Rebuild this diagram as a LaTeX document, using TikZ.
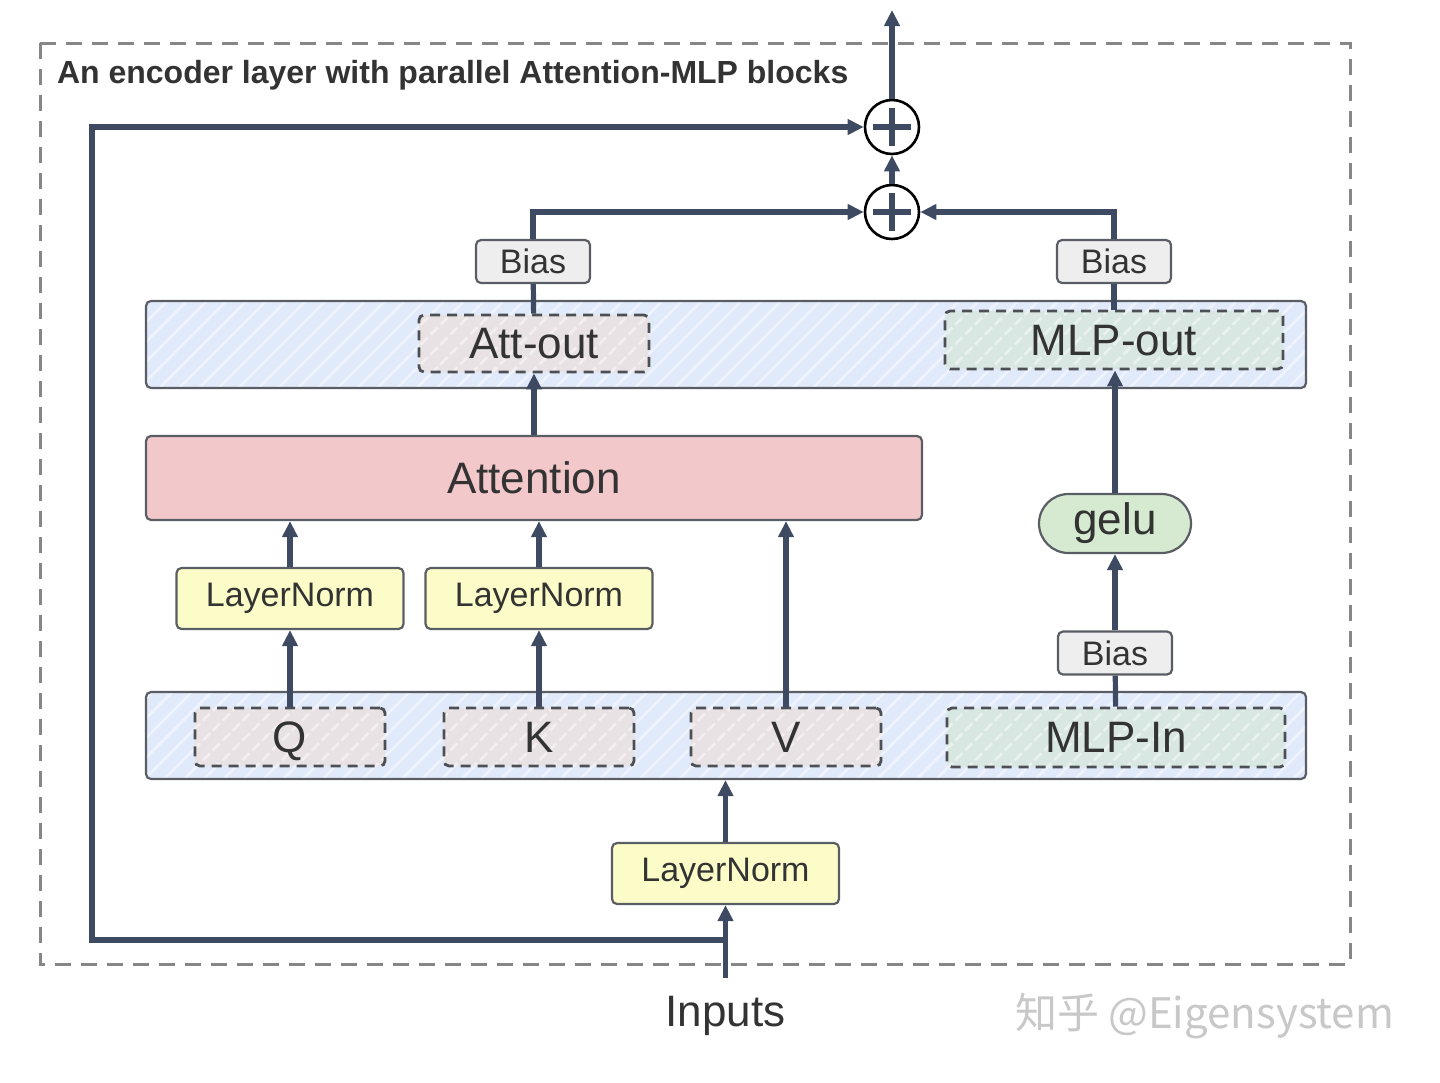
\documentclass[tikz,border=0pt]{standalone}
\usepackage{fontspec}
\setmainfont{Liberation Sans}
\newfontfamily\cjkfont{Noto Sans CJK SC}
\usepackage{tikz}
\usetikzlibrary{arrows.meta, patterns.meta}

\definecolor{slate}{RGB}{62,74,97}
\definecolor{edgegray}{RGB}{90,94,100}
\definecolor{framegray}{RGB}{135,135,135}
\definecolor{textgray}{RGB}{51,51,51}
\definecolor{barblue}{RGB}{225,234,251}
\definecolor{attpink}{RGB}{233,226,228}
\definecolor{mlpgreen}{RGB}{217,231,226}
\definecolor{attnred}{RGB}{243,200,203}
\definecolor{lnyellow}{RGB}{252,252,200}
\definecolor{gelugreen}{RGB}{213,234,208}
\definecolor{biasgray}{RGB}{238,238,238}
\definecolor{wmgray}{RGB}{200,200,200}

\begin{document}
\begin{tikzpicture}[x=0.5pt, y=-0.5pt,
  flow/.style={draw=slate, line width=2.6pt, -{Triangle[length=8pt,width=7.5pt]}},
  link/.style={draw=slate, line width=2.6pt},
  box/.style={draw=edgegray, line width=1.1pt, rounded corners=2.5pt, inner sep=0pt,
    text=textgray, font=\fontsize{22}{26}\selectfont},
  hatch/.style={preaction={fill=#1}, pattern={Lines[angle=45,distance=7pt,line width=1.3pt]},
    pattern color=#1!55!white},
  bar/.style={box, hatch=barblue, minimum width=580pt, minimum height=43.5pt},
  slot/.style={box, hatch=#1, draw=edgegray!85!black, dash pattern=on 5pt off 3.5pt,
    line width=1.4pt, text depth=0pt},
  norm/.style={box, fill=lnyellow, minimum width=113.5pt, minimum height=30.5pt,
    font=\fontsize{17}{20}\selectfont},
  bias/.style={box, fill=biasgray, minimum width=57pt, minimum height=21.5pt,
    font=\fontsize{17}{20}\selectfont},
  sum/.style={circle, draw=black, line width=1.3pt, minimum size=27pt, inner sep=0pt,
    path picture={\draw[slate, line width=2.6pt] (path picture bounding box.center)
      +(-9.5pt,0) -- +(9.5pt,0) +(0,-9.5pt) -- +(0,9.5pt);}}]
  \useasboundingbox (0,0) rectangle (1440,1082);

  % frame
  \draw[framegray, line width=1.5pt, dash pattern=on 8pt off 5pt] (40,43) rectangle (1350,964);
  \node[anchor=west, text=textgray, font=\bfseries\fontsize{16}{18}\selectfont] (title) at (50,75)
    {An encoder layer with parallel Attention-MLP blocks};

  % projection bars
  \node[bar] (topbar) at (726,344.5) {};
  \node[bar] (botbar) at (726,735.5) {};

  % dashed blocks
  \node[slot=attpink, minimum width=115pt, minimum height=28.5pt] (attout) at (534,343.5) {Att-out};
  \node[slot=mlpgreen, minimum width=169pt, minimum height=29pt] (mlpout) at (1114,340) {MLP-out};
  \foreach \n/\t/\x in {q/Q/290, k/K/539, v/V/786} {
    \node[slot=attpink, minimum width=95pt, minimum height=29pt] (\n) at (\x,737) {\t};
  }
  \node[slot=mlpgreen, minimum width=169pt, minimum height=29.5pt] (mlpin) at (1116,737.5) {MLP-In};

  % attention and norms
  \node[box, fill=attnred, minimum width=388pt, minimum height=42pt] (attn) at (534,478) {Attention};
  \node[norm] (ln1) at (290,598.5) {LayerNorm};
  \node[norm] (ln2) at (539,598.5) {LayerNorm};
  \node[norm] (ln0) at (725.5,873.5) {LayerNorm};

  % mlp path
  \node[bias] (bias3) at (1115,653) {Bias};
  \node[box, fill=gelugreen, minimum width=76pt, minimum height=29.5pt, rounded corners=14.75pt] (gelu) at (1115,523.5) {gelu};
  \node[bias] (bias2) at (1114,261.5) {Bias};
  \node[bias] (bias1) at (533,261.5) {Bias};

  % sums
  \node[sum] (sum1) at (892,212) {};
  \node[sum] (sum2) at (892,127) {};

  % ends
  \coordinate (in) at (725.5,978);
  \coordinate (split) at (725.5,940);
  \coordinate (skip) at (92,127);
  \coordinate (out) at (892,10);
  \node[text=textgray, font=\fontsize{22}{26}\selectfont] (inputs) at (725.5,1016) {Inputs};
  \node[anchor=west, text=wmgray, font=\cjkfont\fontsize{21}{25}\selectfont] (mark) at (1008,1016)
    {知乎 @Eigensystem};

  % connectors
  \draw[flow] (in) -- (ln0);
  \draw[flow] (ln0) -- (ln0 |- botbar.south);
  \draw[flow] (split) -| (skip) -- (sum2);
  \draw[flow] (q) -- (ln1);
  \draw[flow] (k) -- (ln2);
  \draw[flow] (ln1) -- (ln1 |- attn.south);
  \draw[flow] (ln2) -- (ln2 |- attn.south);
  \draw[flow] (v) -- (v |- attn.south);
  \draw[flow] (attn.north -| attout) -- (attout);
  \draw[link] (attout) -- (bias1);
  \draw[link] (mlpin) -- (bias3);
  \draw[flow] (bias3) -- (gelu);
  \draw[flow] (gelu) -- (gelu |- mlpout.south);
  \draw[link] (mlpout.north -| bias2) -- (bias2);
  \draw[flow] (bias1) |- (sum1);
  \draw[flow] (bias2) |- (sum1);
  \draw[flow] (sum1) -- (sum2);
  \draw[flow] (sum2) -- (out);
\end{tikzpicture}
\end{document}
